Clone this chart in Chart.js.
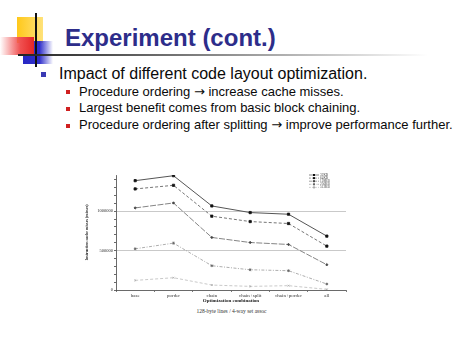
<!DOCTYPE html>
<html><head><meta charset="utf-8">
<script src="https://cdn.jsdelivr.net/npm/chart.js@4/dist/chart.umd.min.js"></script>
<style>
html,body{margin:0;padding:0;background:#fff;width:474px;height:355px;overflow:hidden;position:relative;font-family:"Liberation Sans",Arial,sans-serif;}
.abs{position:absolute;}
.t{position:absolute;white-space:nowrap;color:#0a0a0a;}
.ar{font-family:"DejaVu Sans",sans-serif;}
</style></head><body>
<div class="abs" style="left:17px;top:17px;width:26px;height:26px;background:linear-gradient(to right,#ffc81a,#ffe27a);"></div>
<div class="abs" style="left:23px;top:41px;width:30px;height:23px;background:linear-gradient(to right,#2727c4 0%,#3030cc 55%,rgba(60,60,220,0) 100%);"></div>
<div class="abs" style="left:0px;top:37px;width:34px;height:18px;background:linear-gradient(to right,rgba(255,120,120,0) 0%,#f05050 60%,#e52626 100%);"></div>
<div class="abs" style="left:35px;top:13px;width:2px;height:54px;background:#111;"></div>
<div class="abs" style="left:18px;top:54px;width:410px;height:2px;background:linear-gradient(to right,#222 0%,#777 40%,rgba(200,200,200,0) 100%);"></div>

<div class="t" style="left:65px;top:26.4px;font-size:24px;line-height:24px;font-weight:bold;color:#2d2d8a;">Experiment (cont.)</div>
<div class="abs" style="left:41px;top:72px;width:5px;height:5px;background:#3a3ab4;"></div>
<div class="t" style="left:59px;top:65.5px;font-size:16px;line-height:16px;">Impact of different code layout optimization.</div>
<div class="abs" style="left:66px;top:90px;width:4px;height:4px;background:#d02020;"></div>
<div class="t" style="left:79px;top:84.7px;font-size:13px;line-height:13px;">Procedure ordering <span class="ar">→</span> increase cache misses.</div>
<div class="abs" style="left:66px;top:107px;width:4px;height:4px;background:#d02020;"></div>
<div class="t" style="left:79px;top:101.3px;font-size:13px;line-height:13px;">Largest benefit comes from basic block chaining.</div>
<div class="abs" style="left:66px;top:124px;width:4px;height:4px;background:#d02020;"></div>
<div class="t" style="left:79px;top:118.3px;font-size:13px;line-height:13px;">Procedure ordering after splitting <span class="ar">→</span> improve performance further.</div>

<canvas id="c" width="300" height="142" style="position:absolute;left:75px;top:165px;width:300px;height:142px;"></canvas>
<div class="t" style="left:0;width:463px;text-align:center;top:307px;font-family:'Liberation Serif',serif;font-size:5.5px;line-height:8px;color:#333;">128-byte lines / 4-way set assoc</div>

<script>
const categories = ['base','porder','chain','chain+split','chain+porder','all'];
const seriesNames = ['32KB','64KB','128KB','256KB','512KB'];
const s32  = [1388000,1451000,1067000,983000,962000,684000];
const s64  = [1283000,1329000,937000,869000,844000,557000];
const s128 = [1042000,1105000,667000,603000,578000,321000];
const s256 = [523000,595000,308000,257000,245000,76000];
const s512 = [122000,156000,63000,46000,55000,8000];
const yTickLabels = [0,500000,1000000];

const styles = [
  {c:'#555', w:1.0, d:[], pc:'#111', ps:'rect', r:1.6},
  {c:'#666', w:0.9, d:[3,2], pc:'#111', ps:'rect', r:1.6},
  {c:'#777', w:0.9, d:[6,1.5], pc:'#444', ps:'rectRot', r:1.2},
  {c:'#999', w:0.8, d:[3,1.5,1,1.5], pc:'#666', ps:'star', r:1.4},
  {c:'#bbb', w:0.8, d:[3,2], pc:'#aaa', ps:'crossRot', r:1.3}
];
const seriesData = [s32,s64,s128,s256,s512];
const datasets = seriesData.map((d,i)=>({
  label: seriesNames[i], data: d,
  borderColor: styles[i].c, borderWidth: styles[i].w, borderDash: styles[i].d,
  pointStyle: styles[i].ps, pointRadius: styles[i].r,
  pointBackgroundColor: styles[i].pc, pointBorderColor: styles[i].pc, pointBorderWidth: 0.8,
  tension: 0, fill: false
}));

const legendPlugin = {
  id:'miniLegend',
  afterDraw(chart){
    const ctx = chart.ctx;
    ctx.save();
    const x0 = 234, y0 = 10, dy = 3.1;
    chart.data.datasets.forEach((ds,i)=>{
      const y = y0 + i*dy;
      ctx.strokeStyle = ds.borderColor; ctx.lineWidth = 0.7;
      ctx.setLineDash(ds.borderDash.map(v=>v*0.6));
      ctx.beginPath(); ctx.moveTo(x0,y); ctx.lineTo(x0+10,y); ctx.stroke();
      ctx.setLineDash([]);
      ctx.fillStyle = ds.pointBackgroundColor;
      ctx.fillRect(x0+4,y-1,2,2);
      ctx.fillStyle = '#444';
      ctx.font = '3.4px "Liberation Serif"';
      ctx.textBaseline = 'middle';
      ctx.fillText(ds.label, x0+11, y);
    });
    ctx.restore();
  }
};

new Chart(document.getElementById('c'), {
  type:'line',
  data:{labels:categories, datasets},
  plugins:[legendPlugin],
  options:{
    responsive:false, animation:false, devicePixelRatio:1,
    layout:{padding:{top:10,right:29,left:0,bottom:0}},
    plugins:{legend:{display:false}, tooltip:{enabled:false}},
    scales:{
      x:{
        offset:true,
        grid:{offset:true, drawOnChartArea:false, tickLength:2, color:'#444', lineWidth:0.7},
        border:{color:'#444', width:0.8},
        ticks:{font:{family:'Liberation Serif', size:5}, color:'#333', padding:1, maxRotation:0, autoSkip:false},
        title:{display:true, text:'Optimization combination', font:{family:'Liberation Serif', size:5, weight:'bold'}, color:'#222', padding:{top:0,bottom:3}},
        afterFit(s){ s.height = 17; }
      },
      y:{
        min:0, max:1460000,
        afterBuildTicks(s){ const t=[]; for(let v=0; v<=1400000; v+=100000) t.push({value:v}); s.ticks=t; },
        grid:{
          color: c => (c.tick && (c.tick.value===500000 || c.tick.value===1000000)) ? '#bbb' : 'rgba(0,0,0,0)',
          tickColor:'#444', tickLength:2, lineWidth:0.8
        },
        border:{color:'#444', width:0.8},
        ticks:{font:{family:'Liberation Serif', size:4.5}, color:'#333', padding:1, autoSkip:false,
          callback: v => yTickLabels.includes(v) ? String(v) : ''},
        title:{display:true, text:'Instruction cache misses (misses)', font:{family:'Liberation Serif', size:4, weight:'bold'}, color:'#222', padding:{top:10,bottom:0}},
        afterFit(s){ s.width = 41; }
      }
    }
  }
});
</script>
</body></html>
